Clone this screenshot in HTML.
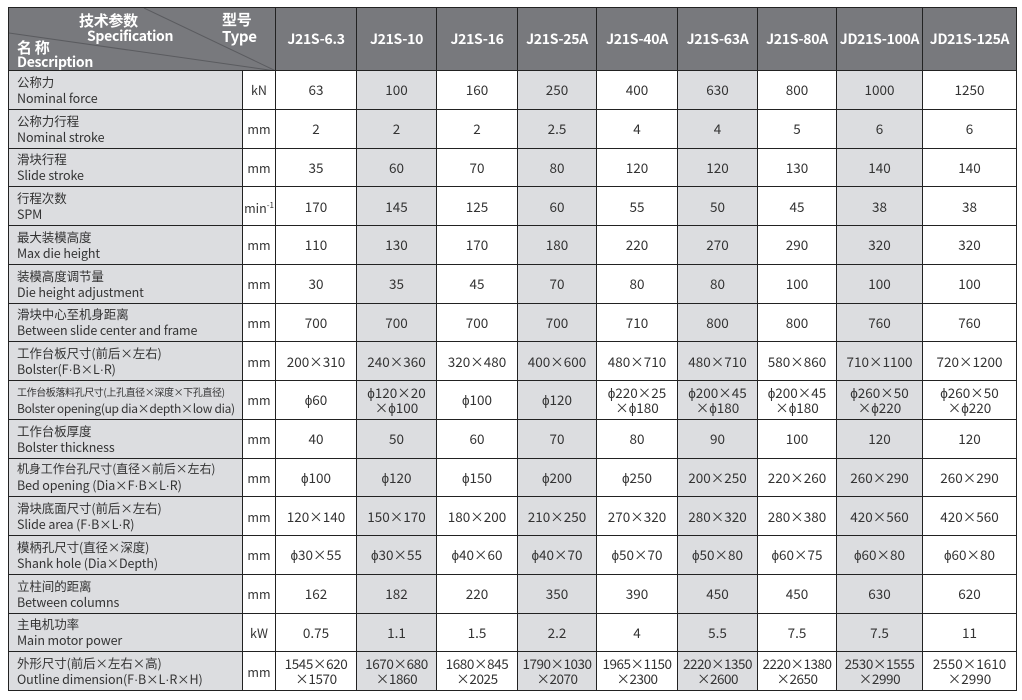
<!DOCTYPE html>
<html><head><meta charset="utf-8"><style>
body{margin:0;background:#fff;width:1022px;height:700px;overflow:hidden;font-family:"Noto Sans CJK SC","Liberation Sans",sans-serif;}
table{position:absolute;left:8px;top:7px;width:1008px;border-collapse:collapse;table-layout:fixed;}
td{border:1.3px solid #222;padding:0;text-align:center;font-size:13.5px;color:#333;line-height:15px;overflow:hidden;white-space:nowrap;}
th{background:#78797d;color:#fff;font-weight:bold;font-size:14px;border:1.3px solid #222;padding:0;white-space:nowrap;overflow:hidden;letter-spacing:-0.3px;}
td.l{background:#dcdde0;text-align:left;padding-left:8px;font-size:12.5px;line-height:16px;letter-spacing:-0.1px;}
td.u{background:#fff;font-size:12.5px;}
td.g{background:#dcdde0;}
tr.r{height:38.75px;}
.sm{font-size:10px;letter-spacing:-0.4px;}
i{font-style:normal;font-family:"Liberation Sans",sans-serif;}
</style></head><body>
<table>
<colgroup><col style="width:234px"><col style="width:33px"><col style="width:81px"><col style="width:80px"><col style="width:81px"><col style="width:79px"><col style="width:81px"><col style="width:80px"><col style="width:79px"><col style="width:86px"><col style="width:94px"></colgroup>
<tr style="height:63px"><th colspan="2" style="position:relative;text-align:left;">
<svg width="267" height="63" style="position:absolute;left:0;top:0"><line x1="135" y1="0" x2="267" y2="63" stroke="#5a5b5f" stroke-width="1"/><line x1="0" y1="25" x2="267" y2="63" stroke="#5a5b5f" stroke-width="1"/>
<g fill="#fff" font-weight="bold" font-family="Noto Sans CJK SC,Liberation Sans,sans-serif"><text x="70" y="18" font-size="15">技术参数</text><text x="78" y="33" font-size="14">Specification</text><text x="213" y="17" font-size="15">型号</text><text x="213" y="34" font-size="15">Type</text><text x="8" y="45" font-size="15">名 称</text><text x="8" y="59" font-size="14">Description</text></g></svg></th>
<th>J21S-6.3</th><th>J21S-10</th><th>J21S-16</th><th>J21S-25A</th><th>J21S-40A</th><th>J21S-63A</th><th>J21S-80A</th><th>JD21S-100A</th><th>JD21S-125A</th></tr>
<tr class="r"><td class="l">公称力<br>Nominal force</td><td class="u">kN</td><td>63</td><td class="g">100</td><td>160</td><td class="g">250</td><td>400</td><td class="g">630</td><td>800</td><td class="g">1000</td><td>1250</td></tr>
<tr class="r"><td class="l">公称力行程<br>Nominal stroke</td><td class="u">mm</td><td>2</td><td class="g">2</td><td>2</td><td class="g">2.5</td><td>4</td><td class="g">4</td><td>5</td><td class="g">6</td><td>6</td></tr>
<tr class="r"><td class="l">滑块行程<br>Slide stroke</td><td class="u">mm</td><td>35</td><td class="g">60</td><td>70</td><td class="g">80</td><td>120</td><td class="g">120</td><td>130</td><td class="g">140</td><td>140</td></tr>
<tr class="r"><td class="l">行程次数<br>SPM</td><td class="u">min<sup style="font-size:8px">-1</sup></td><td>170</td><td class="g">145</td><td>125</td><td class="g">60</td><td>55</td><td class="g">50</td><td>45</td><td class="g">38</td><td>38</td></tr>
<tr class="r"><td class="l">最大装模高度<br>Max die height</td><td class="u">mm</td><td>110</td><td class="g">130</td><td>170</td><td class="g">180</td><td>220</td><td class="g">270</td><td>290</td><td class="g">320</td><td>320</td></tr>
<tr class="r"><td class="l">装模高度调节量<br>Die height adjustment</td><td class="u">mm</td><td>30</td><td class="g">35</td><td>45</td><td class="g">70</td><td>80</td><td class="g">80</td><td>100</td><td class="g">100</td><td>100</td></tr>
<tr class="r"><td class="l">滑块中心至机身距离<br>Between slide center and frame</td><td class="u">mm</td><td>700</td><td class="g">700</td><td>700</td><td class="g">700</td><td>710</td><td class="g">800</td><td>800</td><td class="g">760</td><td>760</td></tr>
<tr class="r"><td class="l">工作台板尺寸(前后×左右)<br>Bolster(F<i>·</i>B×L<i>·</i>R)</td><td class="u">mm</td><td>200×310</td><td class="g">240×360</td><td>320×480</td><td class="g">400×600</td><td>480×710</td><td class="g">480×710</td><td>580×860</td><td class="g">710×1100</td><td>720×1200</td></tr>
<tr class="r"><td class="l"><span class="sm">工作台板落料孔尺寸(上孔直径×深度×下孔直径)</span><br><span style="font-size:12px;letter-spacing:-0.3px">Bolster opening(up dia×depth×low dia)</span></td><td class="u">mm</td><td>ϕ60</td><td class="g">ϕ120×20<br>×ϕ100</td><td>ϕ100</td><td class="g">ϕ120</td><td>ϕ220×25<br>×ϕ180</td><td class="g">ϕ200×45<br>×ϕ180</td><td>ϕ200×45<br>×ϕ180</td><td class="g">ϕ260×50<br>×ϕ220</td><td>ϕ260×50<br>×ϕ220</td></tr>
<tr class="r"><td class="l">工作台板厚度<br>Bolster thickness</td><td class="u">mm</td><td>40</td><td class="g">50</td><td>60</td><td class="g">70</td><td>80</td><td class="g">90</td><td>100</td><td class="g">120</td><td>120</td></tr>
<tr class="r"><td class="l"><span style="font-size:12px">机身工作台孔尺寸(直径×前后×左右)</span><br>Bed opening (Dia×F<i>·</i>B×L<i>·</i>R)</td><td class="u">mm</td><td>ϕ100</td><td class="g">ϕ120</td><td>ϕ150</td><td class="g">ϕ200</td><td>ϕ250</td><td class="g">200×250</td><td>220×260</td><td class="g">260×290</td><td>260×290</td></tr>
<tr class="r"><td class="l">滑块底面尺寸(前后×左右)<br>Slide area (F<i>·</i>B×L<i>·</i>R)</td><td class="u">mm</td><td>120×140</td><td class="g">150×170</td><td>180×200</td><td class="g">210×250</td><td>270×320</td><td class="g">280×320</td><td>280×380</td><td class="g">420×560</td><td>420×560</td></tr>
<tr class="r"><td class="l">模柄孔尺寸(直径×深度)<br>Shank hole (Dia×Depth)</td><td class="u">mm</td><td>ϕ30×55</td><td class="g">ϕ30×55</td><td>ϕ40×60</td><td class="g">ϕ40×70</td><td>ϕ50×70</td><td class="g">ϕ50×80</td><td>ϕ60×75</td><td class="g">ϕ60×80</td><td>ϕ60×80</td></tr>
<tr class="r"><td class="l">立柱间的距离<br>Between columns</td><td class="u">mm</td><td>162</td><td class="g">182</td><td>220</td><td class="g">350</td><td>390</td><td class="g">450</td><td>450</td><td class="g">630</td><td>620</td></tr>
<tr class="r"><td class="l">主电机功率<br>Main motor power</td><td class="u">kW</td><td>0.75</td><td class="g">1.1</td><td>1.5</td><td class="g">2.2</td><td>4</td><td class="g">5.5</td><td>7.5</td><td class="g">7.5</td><td>11</td></tr>
<tr class="r"><td class="l">外形尺寸(前后×左右×高)<br>Outline dimension(F<i>·</i>B×L<i>·</i>R×H)</td><td class="u">mm</td><td style="letter-spacing:-0.4px">1545×620<br>×1570</td><td class="g" style="letter-spacing:-0.4px">1670×680<br>×1860</td><td style="letter-spacing:-0.4px">1680×845<br>×2025</td><td class="g" style="letter-spacing:-0.5px">1790×1030<br>×2070</td><td style="letter-spacing:-0.5px">1965×1150<br>×2300</td><td class="g" style="letter-spacing:-0.5px">2220×1350<br>×2600</td><td style="letter-spacing:-0.5px">2220×1380<br>×2650</td><td class="g" style="letter-spacing:-0.4px">2530×1555<br>×2990</td><td>2550×1610<br>×2990</td></tr>
</table>
</body></html>
